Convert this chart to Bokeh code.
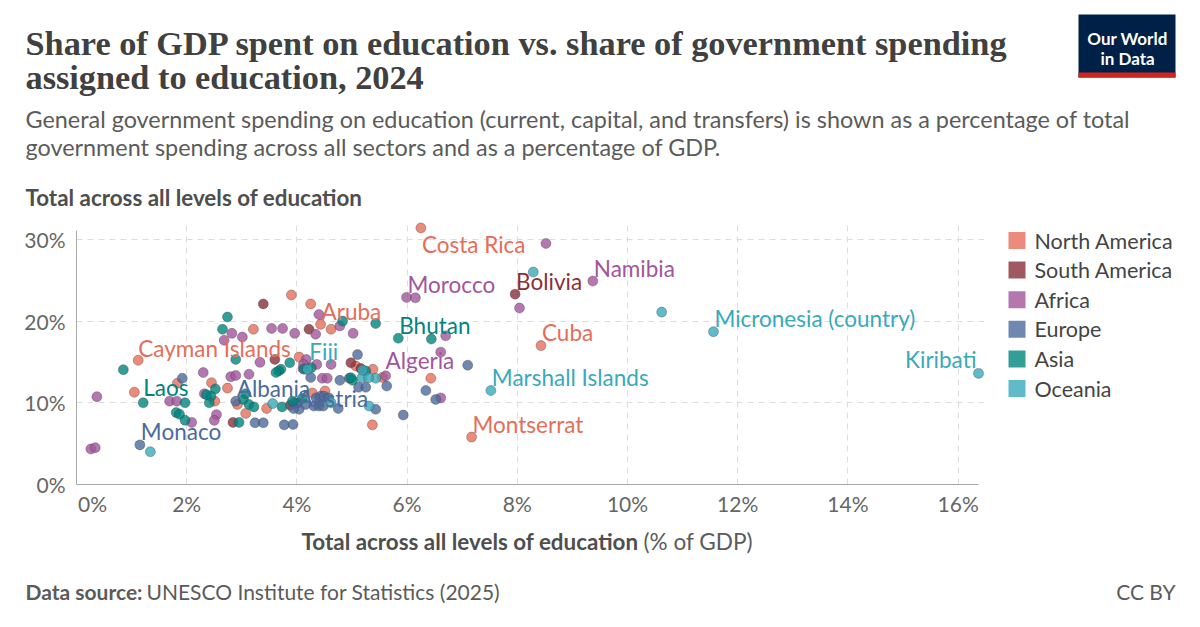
from bokeh.plotting import figure
from bokeh.layouts import column, row
from bokeh.models import Range1d, Label, FixedTicker, PrintfTickFormatter, ColumnDataSource
from bokeh.core.properties import value
from bokeh.embed import file_html
from bokeh.resources import INLINE

# ---------------------------------------------------------------- data
# x: education spending as % of GDP, y: % of total government spending
continents = ["North America", "South America", "Africa", "Europe", "Asia", "Oceania"]

north_america_gdp = [6.25, 8.43, 7.17, 1.12, 4.43, 3.90, 4.25, 1.05, 1.83, 2.45, 2.74, 2.51,
                     3.21, 2.92, 3.45, 3.07, 4.62, 5.07, 5.38, 5.55, 6.43, 5.37, 4.51, 4.04, 4.28]
north_america_gov = [31.4, 17.0, 5.8, 15.2, 19.6, 23.2, 22.1, 11.3, 12.4, 12.45, 11.8, 10.2,
                     19.0, 9.8, 9.3, 8.7, 19.0, 14.5, 14.1, 13.1, 13.0, 7.3, 11.45, 15.6, 11.2]
north_america_names = ["Costa Rica", "Cuba", "Montserrat", "Cayman Islands", "Aruba"] + [""] * 20

south_america_gdp = [7.96, 3.39, 4.22, 3.60, 4.98, 5.16, 3.88, 2.84]
south_america_gov = [23.3, 22.1, 19.0, 15.3, 14.9, 14.2, 9.7, 7.6]
south_america_names = ["Bolivia"] + [""] * 7

africa_gdp = [9.37, 5.99, 5.61, 8.52, 8.04, 6.15, 6.70, 6.61, 6.61, 2.82, 3.01, 2.68, 2.30,
              2.80, 2.89, 0.37, 1.69, 1.82, 2.32, 2.09, 2.54, 2.50, 0.26, 0.34, 3.54, 3.74,
              3.96, 4.34, 4.40, 3.33, 4.17, 4.11, 3.13, 4.78, 5.02, 4.46, 4.55, 4.36, 4.62, 4.12]
africa_gov = [24.9, 22.9, 13.3, 29.5, 21.6, 22.85, 18.2, 16.2, 10.6, 18.5, 18.05, 17.65, 13.7,
              13.2, 13.35, 10.75, 10.2, 10.2, 11.1, 7.6, 8.55, 7.85, 4.35, 4.5, 19.1, 19.1,
              18.5, 18.4, 20.8, 14.95, 15.3, 14.2, 13.5, 19.4, 18.5, 13.0, 13.0, 14.7, 14.7, 14.7]
africa_names = ["Namibia", "Morocco", "Algeria"] + [""] * 37

europe_gdp = [4.04, 2.89, 1.15, 1.92, 3.95, 4.01, 3.94, 4.16, 4.31, 4.40, 4.48, 4.35, 4.43,
              4.49, 4.58, 3.24, 3.39, 3.77, 3.93, 5.10, 4.95, 4.78, 4.25, 5.12, 5.25, 5.63,
              6.34, 6.52, 7.10, 5.43, 5.93, 4.75]
europe_gov = [9.2, 10.2, 4.85, 13.0, 10.0, 10.0, 9.3, 9.8, 9.6, 9.6, 9.6, 10.6, 10.8,
              10.8, 10.6, 7.55, 7.55, 7.3, 7.35, 15.9, 13.0, 12.75, 13.1, 11.9, 11.9, 12.05,
              11.5, 10.4, 14.6, 9.2, 8.5, 9.3]
europe_names = ["Austria", "Albania", "Monaco"] + [""] * 29

asia_gdp = [1.21, 5.84, 2.74, 2.65, 0.85, 2.52, 2.44, 2.41, 1.97, 1.81, 1.87, 1.97, 2.95,
            2.36, 3.03, 3.13, 3.22, 3.73, 2.89, 3.87, 3.71, 3.67, 4.26, 4.83, 5.43, 6.44,
            5.01, 5.25, 3.62, 4.13, 4.98, 3.07, 3.92, 4.10]
asia_gov = [10.0, 17.9, 20.5, 19.0, 14.05, 11.7, 10.8, 10.0, 10.0, 8.8, 8.6, 7.85, 7.6,
            11.0, 10.4, 9.8, 9.5, 9.5, 15.3, 14.9, 14.1, 13.9, 14.3, 20.0, 19.7, 17.8,
            12.75, 13.9, 13.7, 14.1, 13.07, 11.1, 10.2, 10.55]
asia_names = ["Laos", "Bhutan"] + [""] * 32

oceania_gdp = [16.37, 11.56, 7.52, 4.19, 10.62, 8.29, 1.34, 5.43, 5.18, 5.30, 3.56, 5.31, 4.62, 5.19]
oceania_gov = [13.6, 18.7, 11.5, 14.1, 21.1, 26.0, 4.0, 13.0, 13.07, 13.07, 9.9, 9.6, 10.0, 14.0]
oceania_names = ["Kiribati", "Micronesia (country)", "Marshall Islands", "Fiji"] + [""] * 10

x_ticks = [0, 2, 4, 6, 8, 10, 12, 14, 16]
y_ticks = [0, 10, 20, 30]

series = {
    "North America": (north_america_gdp, north_america_gov, north_america_names),
    "South America": (south_america_gdp, south_america_gov, south_america_names),
    "Africa": (africa_gdp, africa_gov, africa_names),
    "Europe": (europe_gdp, europe_gov, europe_names),
    "Asia": (asia_gdp, asia_gov, asia_names),
    "Oceania": (oceania_gdp, oceania_gov, oceania_names),
}

# ---------------------------------------------------------------- styling
colors = {"North America": "#E56E5A", "South America": "#883039", "Africa": "#A2559C",
          "Europe": "#4C6A9C", "Asia": "#00847E", "Oceania": "#38AABA"}

# label placement relative to its point (pixels; negative dy = above)
label_offsets = {"Costa Rica": (1, 17), "Fiji": (2, -18), "Austria": (-1, -11),
                 "Algeria": (0, -15), "Laos": (0, -15), "Cayman Islands": (0, -12),
                 "Kiribati": (-2, -14)}
right_aligned = {"Kiribati"}

FONT = "Lato"
GREY = "#5b5b5b"
DARK = "#4e4e4e"
W = 1200
HEAD_H, MAIN_H, FOOT_H = 215, 310, 102
MAIN_W = 1000
FL, FR = 76, 984                 # frame edges inside the main plot
FT, FB = 5, 269                  # frame top/bottom inside the main plot
KX = (978 - 76) / 16.37          # pixels per percentage point, x
KY = 81.7 / 10                   # pixels per percentage point, y


def blank(w, h, top=0, bottom=0):
    """A figure whose data space is its own pixel grid (y pointing down)."""
    f = figure(width=w, height=h, x_range=Range1d(0, w), y_range=Range1d(h - top - bottom, 0),
               x_axis_type=None, y_axis_type=None, output_backend="svg",
               toolbar_location=None, title=None,
               min_border_left=0, min_border_right=0,
               min_border_top=top, min_border_bottom=bottom)
    f.outline_line_color = None
    f.background_fill_color = "white"
    f.border_fill_color = "white"
    return f


def put(f, text, x, y, size, color=GREY, bold=False, align="left", font=FONT):
    f.add_layout(Label(x=x, y=y, text=text, text_font=font, text_font_size=f"{size}px",
                       text_color=color, text_font_style="bold" if bold else "normal",
                       text_align=align, text_baseline="middle"))


# ---------------------------------------------------------------- header
head = blank(W, HEAD_H)
title_font = "Liberation Serif"
put(head, "Share of GDP spent on education vs. share of government spending", 25, 42, 34.3,
    color="#404040", bold=True, font=title_font)
put(head, "assigned to education, 2024", 25, 76.5, 34.3, color="#404040", bold=True, font=title_font)
put(head, "General government spending on education (current, capital, and transfers) is shown as a percentage of total",
    25, 118.5, 23.4)
put(head, "government spending across all sectors and as a percentage of GDP.", 25, 146.5, 23.4)
put(head, "Total across all levels of education", 25, 197, 22.4, color=DARK, bold=True)

# logo
head.quad(left=[1078], right=[1175], top=[14], bottom=[77], fill_color="#002147", line_color=None)
head.quad(left=[1078], right=[1175], top=[72], bottom=[77], fill_color="#ce261e", line_color=None)
put(head, "Our World", 1127, 37.5, 17, color="white", bold=True, align="center")
put(head, "in Data", 1127, 57.5, 17, color="white", bold=True, align="center")

# ---------------------------------------------------------------- main scatter
p = figure(width=MAIN_W, height=MAIN_H,
           x_range=Range1d(0, (FR - FL) / KX), y_range=Range1d(0, (FB - FT) / KY),
           output_backend="svg", toolbar_location=None, title=None,
           min_border_left=FL, min_border_right=MAIN_W - FR,
           min_border_top=FT, min_border_bottom=MAIN_H - FB)
p.outline_line_color = None
p.background_fill_color = "white"
p.border_fill_color = "white"

for ax, ticks in ((p.xaxis, x_ticks), (p.yaxis, y_ticks)):
    ax.ticker = FixedTicker(ticks=ticks)
    ax.formatter = PrintfTickFormatter(format="%d%%")
    ax.major_tick_line_color = None
    ax.minor_tick_line_color = None
    ax.axis_line_color = "#a8a8a8"
    ax.major_label_text_font = FONT
    ax.major_label_text_font_size = "21px"
    ax.major_label_text_color = "#666666"
# the first x label sits just right of the origin
p.xaxis.major_label_overrides = {0: "\u00a0" * 6 + "0%"}
p.xaxis.bounds = (0, 16.37)
p.yaxis.bounds = (0, 31.1)
p.xaxis.major_label_standoff = 0
p.yaxis.major_label_standoff = 5

for g, ticks in ((p.xgrid, x_ticks), (p.ygrid, y_ticks)):
    g.ticker = FixedTicker(ticks=ticks)
    g.grid_line_color = "#dddddd"
    g.grid_line_dash = "6 5"
    g.grid_line_width = 1

for c in continents:
    gdp, gov, _ = series[c]
    p.scatter(gdp, gov, size=10, fill_color=colors[c], fill_alpha=0.8,
              line_color="#333333", line_alpha=0.55, line_width=0.6)

for align in ("left", "right"):
    xs, ys, txt, col, dxs, dys = [], [], [], [], [], []
    for c in continents:
        gdp, gov, names = series[c]
        for x, y, n in zip(gdp, gov, names):
            if not n or ((n in right_aligned) != (align == "right")):
                continue
            dx, dy = label_offsets.get(n, (1, -13))
            xs.append(x); ys.append(y); txt.append(n); col.append(colors[c])
            dxs.append(dx); dys.append(dy)
    src = ColumnDataSource(dict(x=xs, y=ys, text=txt, color=col, dx=dxs, dy=dys))
    p.text(x="x", y="y", text="text", source=src, x_offset="dx", y_offset="dy",
           text_color="color", text_font=value(FONT), text_font_size="22.5px",
           text_align=align, text_baseline="middle")

# ---------------------------------------------------------------- legend
# frame shares the main plot's top/bottom borders; y counts down from the frame top
leg = blank(W - MAIN_W, MAIN_H, top=FT, bottom=MAIN_H - FB)
for i, c in enumerate(continents):
    cy = 20 + i * 29.6
    leg.quad(left=[8], right=[25], top=[cy - 8.5], bottom=[cy + 8.5],
             fill_color=colors[c], fill_alpha=0.8, line_color=None)
    put(leg, c, 34, cy, 21.5, color="#444444")

# ---------------------------------------------------------------- footer
foot = blank(W, FOOT_H)
put(foot, "Total across all levels of education", 638, 16, 22.4, color=DARK, bold=True, align="right")
put(foot, "(% of GDP)", 643, 16, 22.6, color=GREY)
put(foot, "Data source:", 25, 66, 21, bold=True)
put(foot, "UNESCO Institute for Statistics (2025)", 146, 66, 21)
put(foot, "CC BY", 1175, 66, 21, align="right")

layout = column(head, row(p, leg), foot)
open("out.html", "w").write(file_html(layout, INLINE))
